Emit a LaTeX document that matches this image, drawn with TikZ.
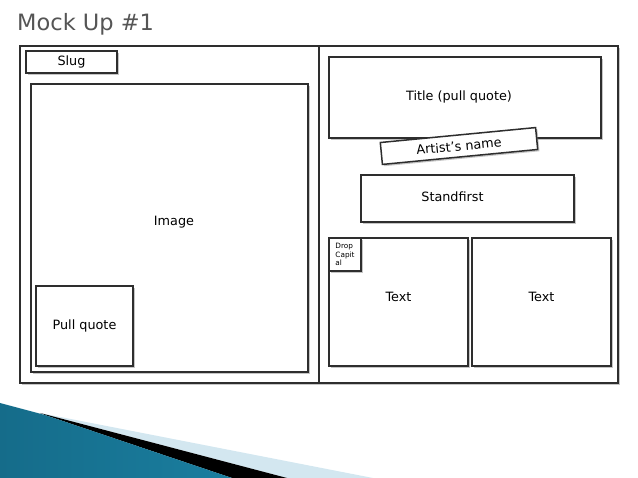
\documentclass[tikz,border=0pt]{standalone}
\usepackage{fontspec}
\setmainfont{DejaVu Sans}
\usetikzlibrary{shadows,positioning}
\definecolor{edgegray}{HTML}{2E2E2E}
\definecolor{headgray}{HTML}{555555}
\definecolor{seadark}{HTML}{156C8A}
\definecolor{sealight}{HTML}{5CBCDD}
\definecolor{seaend}{HTML}{1A7E9F}
\definecolor{paleblue}{HTML}{D3E7F0}
\tikzset{box/.style={draw=edgegray, line width=1.5pt, fill=white, inner sep=0pt, outer sep=0pt,
    drop shadow={shadow xshift=1.8pt, shadow yshift=-1.8pt, opacity=0.45, fill=gray},
    font=\fontsize{12.8}{15}\selectfont},
  tag/.style={font=\fontsize{12.8}{15}\selectfont}}

\begin{document}
\begin{tikzpicture}[x=1pt,y=-1pt]
\useasboundingbox (0,0) rectangle (638,478);
\node[anchor=base west, text=headgray, font=\fontsize{22.5}{26}\selectfont, inner sep=0pt] (head) at (17,31) {Mock Up \#1};
% page and its two halves
\node[box, line width=1.9pt, minimum width=598, minimum height=337] (page) at (319,214.5) {};
\draw[edgegray, line width=1.4pt] (page.north) -- (page.south);
% left half
\node[box, minimum width=91, minimum height=22] (slug) at (71.5,62) {Slug};
\node[box, minimum width=277, minimum height=288,
  label={[tag, xshift=4.5pt, yshift=6pt]center:Image}] (image) at (169.5,228) {};
\node[box, minimum width=97, minimum height=80] (pullq) at (84.5,326) {Pull quote};
% right half
\node[box, minimum width=272, minimum height=81,
  label={[tag, xshift=-6pt, yshift=1pt]center:Title (pull quote)}] (title) at (465,97.5) {};
\node[box, rotate=5.5, minimum width=156, minimum height=22] (artist) at (459,146) {Artist's name};
\node[box, minimum width=213, minimum height=47,
  label={[tag, xshift=-15pt, yshift=2pt]center:Standfirst}] (stand) at (467.5,198.5) {};
\node[box, minimum width=139, minimum height=128,
  label={[tag, yshift=5pt]center:Text}] (textA) at (398.5,302) {};
\node[box, minimum width=139, minimum height=128, right=4 of textA,
  label={[tag, yshift=5pt]center:Text}] (textB) {};
\node[box, minimum width=32, minimum height=33, anchor=north west, align=left,
  font=\fontsize{7.3}{8.7}\selectfont] (drop) at (textA.north west) {Drop\\Capit\\al};
% corner decoration
\fill[paleblue] (40,413) -- (373,478) -- (287,478) -- cycle;
\fill[black] (40,413) -- (287,478) -- (232,478) -- (45,415) -- cycle;
\shade[left color=seadark, middle color=sealight, right color=seaend] (0,403) -- (45,415) -- (232,478) -- (0,478) -- cycle;
\end{tikzpicture}
\end{document}
